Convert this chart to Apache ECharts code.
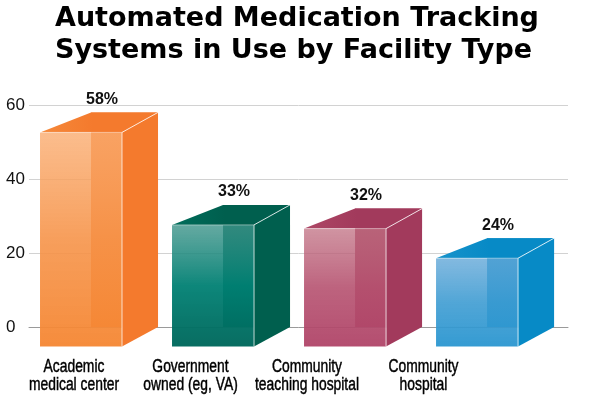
<!DOCTYPE html>
<html>
<head>
<meta charset="utf-8">
<script src="https://cdn.jsdelivr.net/npm/echarts@6/dist/echarts.min.js"></script>
<style>
  html, body { margin: 0; padding: 0; background: #fff; }
  #chart { width: 589px; height: 408px; }
</style>
</head>
<body>
<div id="chart"></div>
<script>
var categories = ['Academic\nmedical center', 'Government\nowned (eg, VA)', 'Community\nteaching hospital', 'Community\nhospital']
var values = [58, 33, 32, 24]
var valueLabels = ['58%', '33%', '32%', '24%']
var yTicks = [0, 20, 40, 60]

// colours of each box: side/back, lighter top, front gradient (top, middle, bottom)
var sideColors = ['#f47a2d', '#005f4e', '#a23a5c', '#078ac6']
var topColors = ['#f5893a', '#006d5b', '#ad4766', '#1893cb']
var frontColors = [
  ['rgba(250,172,112,0.8)', 'rgba(246,148,74,0.9)', 'rgba(245,134,50,0.95)'],
  ['rgba(62,148,138,0.8)', 'rgba(0,128,115,0.95)', 'rgba(0,104,92,0.97)'],
  ['rgba(192,112,130,0.75)', 'rgba(182,82,112,0.9)', 'rgba(176,68,104,0.95)'],
  ['rgba(100,168,216,0.8)', 'rgba(62,156,210,0.9)', 'rgba(42,150,208,0.95)']
]

var myChart = echarts.init(document.getElementById('chart'))

function renderBox (params, api) {
  var i = params.dataIndex
  var top = api.coord([api.value(0), api.value(1)])
  var base = api.coord([api.value(0), 0])
  var fc = top[0]
  var yv = top[1]
  var y0 = base[1]
  // box shape in pixels
  var fl = fc - 41, fr = fc + 41, ft = yv + 20, fb = y0 + 19.5
  var bl = fc + 10, br = fc + 77
  var fcs = frontColors[i]
  return {
    type: 'group',
    children: [
      { type: 'rect', shape: { x: bl, y: yv, width: br - bl, height: y0 - yv }, style: { fill: sideColors[i] } },
      {
        type: 'polygon',
        shape: { points: [[fl, ft], [bl, yv], [br, yv], [fr, ft]] },
        style: {
          fill: new echarts.graphic.LinearGradient(0, 0, 1, 0, [
            { offset: 0, color: topColors[i] },
            { offset: 0.45, color: sideColors[i] },
            { offset: 1, color: sideColors[i] }
          ])
        }
      },
      {
        type: 'polygon',
        shape: { points: [[fr, ft], [br, yv], [br, y0], [fr, fb]] },
        style: { fill: sideColors[i] }
      },
      {
        type: 'rect',
        shape: { x: fl, y: ft, width: fr - fl, height: fb - ft },
        style: {
          fill: new echarts.graphic.LinearGradient(0, 0, 0, 1, [
            { offset: 0, color: fcs[0] },
            { offset: 0.5, color: fcs[1] },
            { offset: 1, color: fcs[2] }
          ])
        }
      },
      { type: 'line', shape: { x1: fl, y1: ft, x2: fr, y2: ft }, style: { stroke: 'rgba(255,255,255,0.45)', lineWidth: 1 } },
      { type: 'line', shape: { x1: fr, y1: ft, x2: fr, y2: fb }, style: { stroke: 'rgba(255,255,255,0.75)', lineWidth: 1 } },
      { type: 'line', shape: { x1: fr, y1: ft, x2: br, y2: yv }, style: { stroke: 'rgba(255,255,255,0.85)', lineWidth: 1 } },
      {
        type: 'text',
        style: {
          x: fc + 21,
          y: yv - 5,
          text: valueLabels[i],
          textAlign: 'center',
          textVerticalAlign: 'bottom',
          fill: '#111',
          font: 'bold 16px "Liberation Sans", Arial, sans-serif'
        }
      }
    ]
  }
}

// category names, squeezed like a condensed face
function renderLabel (params, api) {
  var p = api.coord([api.value(0), 0])
  return {
    type: 'text',
    x: p[0],
    y: p[1] + 31,
    scaleX: 0.77,
    style: {
      x: 0,
      y: 0,
      text: categories[params.dataIndex],
      textAlign: 'center',
      textVerticalAlign: 'top',
      font: '18px "Liberation Sans", Arial, sans-serif',
      lineHeight: 18,
      fill: '#000',
      stroke: '#000',
      lineWidth: 0.45
    }
  }
}

var option = {
  animation: false,
  title: {
    text: 'Automated Medication Tracking\nSystems in Use by Facility Type',
    left: 50,
    top: -2,
    textStyle: {
      fontFamily: 'DejaVu Sans',
      fontWeight: 'bold',
      fontSize: 27,
      lineHeight: 32,
      color: '#000'
    }
  },
  grid: [
    { left: 29, right: 21, top: 105, bottom: 81 },
    { left: 15.75, right: 107.25, top: 105, bottom: 81 }
  ],
  xAxis: [{
    type: 'value',
    gridIndex: 0,
    min: -0.394,
    max: 3.689,
    axisLabel: { show: false },
    axisTick: { show: false },
    splitLine: { show: false },
    axisLine: { show: true, lineStyle: { color: '#9a9a9a' } }
  }, {
    type: 'category',
    gridIndex: 1,
    data: categories,
    axisLine: { show: false },
    axisTick: { show: false },
    axisLabel: { show: false }
  }],
  yAxis: [{
    type: 'value',
    gridIndex: 0,
    min: yTicks[0],
    max: yTicks[yTicks.length - 1],
    interval: yTicks[1] - yTicks[0],
    axisLine: { show: false },
    axisTick: { show: false },
    axisLabel: {
      align: 'left',
      margin: 23,
      fontFamily: '"Liberation Sans", Arial, sans-serif',
      fontSize: 17,
      color: '#111'
    },
    splitLine: { lineStyle: { color: '#d2d2d2' } }
  }, {
    type: 'value',
    gridIndex: 1,
    min: yTicks[0],
    max: yTicks[yTicks.length - 1],
    show: false
  }],
  series: [{
    type: 'custom',
    xAxisIndex: 0,
    yAxisIndex: 0,
    renderItem: renderBox,
    data: values.map(function (v, i) { return [i, v] })
  }, {
    type: 'custom',
    xAxisIndex: 1,
    yAxisIndex: 1,
    renderItem: renderLabel,
    data: categories.map(function (c, i) { return [i] })
  }]
}
myChart.setOption(option)
</script>
</body>
</html>
